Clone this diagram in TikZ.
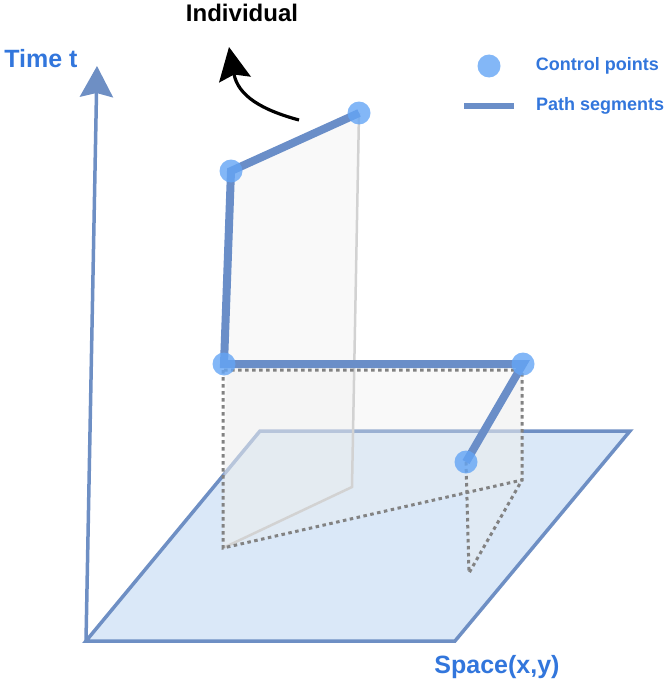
\documentclass[tikz,border=0pt]{standalone}
\usepackage{fontspec}
\setmainfont{Liberation Sans}
\usetikzlibrary{positioning,arrows.meta}
\definecolor{axisblue}{RGB}{110,143,196}
\definecolor{txtblue}{RGB}{50,118,220}
\definecolor{segblue}{RGB}{106,142,200}
\definecolor{dotblue}{RGB}{100,165,245}
\definecolor{planefill}{RGB}{218,232,248}
\definecolor{hidgray}{RGB}{130,130,130}
\definecolor{facegray}{RGB}{238,238,238}
\tikzset{
  lbl/.style={font=\bfseries\fontsize{25}{29}\selectfont,text=txtblue,inner sep=0pt},
  leg/.style={font=\bfseries\fontsize{18}{22}\selectfont,text=txtblue,inner sep=0pt},
  cpt/.style={circle,fill=dotblue,fill opacity=0.8,minimum size=23pt,inner sep=0pt},
  seg/.style={line width=8pt,segblue},
  hid/.style={hidgray,line width=3pt,dash pattern=on 3.5pt off 3.5pt},
  face/.style={fill=facegray,fill opacity=0.35},
}

\begin{document}
\begin{tikzpicture}[x=1pt,y=-1pt]
\useasboundingbox (0,0) rectangle (666,685);
% ground plane
\draw[axisblue,line width=3.5pt,fill=planefill] (86,641) -- (455,641) -- (630,431) -- (260,431) -- cycle;
% time axis
\coordinate (o) at (86,641);
\coordinate (tt) at (97,66);
\draw[axisblue,line width=3.5pt,-{Stealth[length=31pt,width=33pt,inset=4pt]}] (o) -- (tt);
\node[lbl] (time) at (41,59) {Time t};
\node[lbl] (space) at (497,667) {Space(x,y)};
% control points and their feet on the plane
\coordinate (p1) at (359,113);
\coordinate (p2) at (231,171);
\coordinate (p3) at (224,364);
\coordinate (p4) at (523,364);
\coordinate (p5) at (466,462);
\coordinate (q3) at (223,370);
\coordinate (q4) at (522,370);
\coordinate (g1) at (352,487);
\coordinate (g3) at (223,548);
\coordinate (g4) at (522,480);
\coordinate (g5) at (469,573);
% see-through walls
\fill[face] (p2) -- (p1) -- (g1) -- (g3) -- cycle;
\fill[face] (p3) -- (p4) -- (g4) -- (g3) -- cycle;
\fill[face] (p4) -- (p5) -- (g5) -- (g4) -- cycle;
\draw[gray!35,line width=2.5pt] (p1) -- (g1) -- (g3);
\draw[hid] (q3) -- (g3) -- (g4) -- (q4) -- cycle;
\draw[hid] (p5) -- (g5) -- (g4);
% path
\draw[seg] (p1) -- (p2) -- (p3) -- (p4) -- (p5);
\foreach \i in {1,...,5} {\node[cpt] (c\i) at (p\i) {};}
% individual
\node[font=\bfseries\fontsize{24}{28}\selectfont] (indiv) at (242,13) {Individual};
\coordinate (ia) at (299,120);
\coordinate (ib) at (229,47);
\draw[line width=3.2pt,-{Stealth[length=33pt,width=32pt,inset=5pt]}] (ia) .. controls (262,110) and (238,96) .. (ib);
% legend
\node[cpt] (legdot) at (489,66) {};
\node[leg,right=35pt of legdot] (legcp) {Control points};
\coordinate (la) at (464,106);
\coordinate (lb) at (514,106);
\draw[seg,line width=6.5pt] (la) -- (lb);
\node[leg,right=22pt of lb] (legps) {Path segments};
\end{tikzpicture}
\end{document}
